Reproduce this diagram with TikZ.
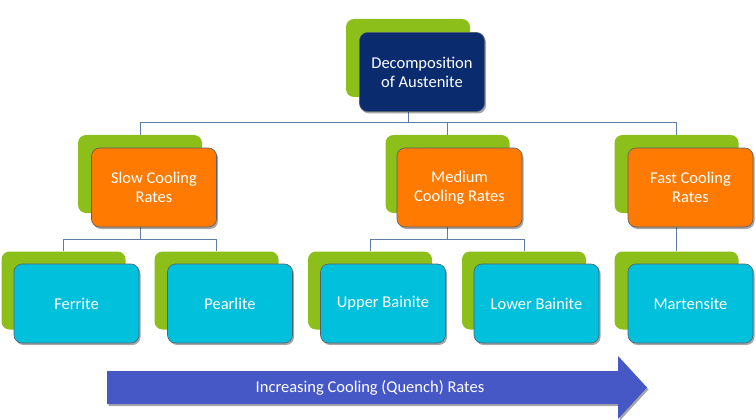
\documentclass[tikz,border=0pt]{standalone}
\usepackage{fontspec}
\setmainfont{Carlito}
\usetikzlibrary{shadows}
\definecolor{cgreen}{HTML}{8CBF1A}
\definecolor{cnavy}{HTML}{0A2C6E}
\definecolor{corange}{HTML}{FF7A00}
\definecolor{ccyan}{HTML}{00C0DC}
\definecolor{carrow}{HTML}{4658C6}
\definecolor{cline}{HTML}{5E7DA6}
\definecolor{cedge}{HTML}{56616E}
\tikzset{
  back/.style={fill=cgreen, rounded corners=8pt, minimum width=124pt, minimum height=78pt, inner sep=0pt},
  front/.style={draw=cedge, line width=0.6pt, rounded corners=8pt, minimum width=125pt, minimum height=79pt,
    inner sep=0pt, align=center, text=white, font=\fontsize{16.5}{19}\selectfont,
    drop shadow={shadow xshift=1.5pt, shadow yshift=-2pt, opacity=0.35, fill=black}},
  navybox/.style={front, fill=cnavy},
  orangebox/.style={front, fill=corange},
  cyanbox/.style={front, fill=ccyan},
  conn/.style={draw=cline, line width=0.8pt}
}
\begin{document}
\begin{tikzpicture}[x=1pt,y=-1pt]
\useasboundingbox (0,0) rectangle (756,420);
% back boxes
\node[back] (tg) at (408,58) {};
\node[back] (sg) at (140,174) {};
\node[back] (mg) at (447.5,174) {};
\node[back] (fag) at (676.5,174) {};
\node[back] (feg) at (63.5,290.5) {};
\node[back] (peg) at (216.5,290.5) {};
\node[back] (ug) at (370,290.5) {};
\node[back] (lg) at (524,290.5) {};
\node[back] (mag) at (676.5,290.5) {};
% connectors
\draw[conn] (tg.south) -- ++(0,25) -| (sg.north);
\draw[conn] (tg.south) -- ++(0,25) -| (mg.north);
\draw[conn] (tg.south) -- ++(0,25) -| (fag.north);
\draw[conn] (sg.south) -- ++(0,26) -| (feg.north);
\draw[conn] (sg.south) -- ++(0,26) -| (peg.north);
\draw[conn] (mg.south) -- ++(0,26) -| (ug.north);
\draw[conn] (mg.south) -- ++(0,26) -| (lg.north);
\draw[conn] (fag.south) -- (mag.north);
% front boxes
\node[navybox] (top) at (422,72) {Decomposition\\of Austenite};
\node[orangebox] (slow) at (154,187.5) {Slow Cooling\\Rates};
\node[orangebox] (med) at (459.5,187.5) {Medium\\Cooling Rates};
\node[orangebox] (fast) at (690.5,187.5) {Fast Cooling\\Rates};
\node[cyanbox] (fer) at (76.5,303.5) {Ferrite};
\node[cyanbox] (pea) at (230,303.5) {Pearlite};
\node[cyanbox] (upb) at (383,303.5) {Upper Bainite};
\node[cyanbox] (lob) at (536.5,303.5) {Lower Bainite};
\node[cyanbox] (mar) at (690.5,303.5) {Martensite};
% arrow
\fill[carrow, drop shadow={shadow xshift=1.5pt, shadow yshift=-2pt, opacity=0.35, fill=black}]
  (107,371) -- (618,371) -- (618,356) -- (647,387.5) -- (618,419) -- (618,404) -- (107,404) -- cycle;
\node[text=white, font=\fontsize{16.5}{19}\selectfont] (lab) at (370,387.5) {Increasing Cooling (Quench) Rates};
\end{tikzpicture}
\end{document}
